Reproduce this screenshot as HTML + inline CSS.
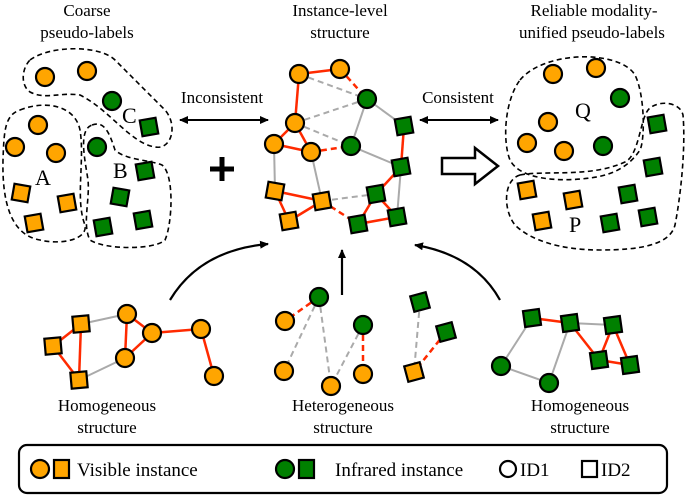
<!DOCTYPE html>
<html><head><meta charset="utf-8"><style>
html,body{margin:0;padding:0;background:#fff;}
svg{display:block;}
text{font-family:"Liberation Serif","Times New Roman",serif;font-size:17px;fill:#000;}
.o{fill:#FFA500;stroke:#000;stroke-width:2.2;}
.g{fill:#008000;stroke:#000;stroke-width:2.2;}
.r{stroke:#FF2A00;stroke-width:2.5;fill:none;}
.rd{stroke:#FF2A00;stroke-width:2.5;fill:none;stroke-dasharray:6,4;}
.gr{stroke:#aaa;stroke-width:2;fill:none;}
.gd{stroke:#aaa;stroke-width:2;fill:none;stroke-dasharray:6,4;}
.bl{fill:none;stroke:#000;stroke-width:1.6;stroke-dasharray:5,3.5;}
.big{font-size:22px;}
.lg{font-size:19px;}
</style></head><body>
<svg width="685" height="498" viewBox="0 0 685 498" xmlns="http://www.w3.org/2000/svg">
<defs>
<marker id="ah" markerWidth="10" markerHeight="10" refX="8" refY="5" orient="auto" markerUnits="userSpaceOnUse"><path d="M0,1 L9,5 L0,9 Z" fill="#000"/></marker>
<marker id="ahs" markerWidth="10" markerHeight="10" refX="1" refY="5" orient="auto" markerUnits="userSpaceOnUse"><path d="M9,1 L0,5 L9,9 Z" fill="#000"/></marker>
</defs>
<g text-anchor="middle">
<text x="87" y="16">Coarse</text><text x="87" y="38">pseudo-labels</text>
<text x="340" y="16">Instance-level</text><text x="340" y="38">structure</text>
<text x="594" y="16">Reliable modality-</text><text x="592" y="38">unified pseudo-labels</text>
<text x="222" y="103">Inconsistent</text><text x="458" y="103">Consistent</text>
<text x="107" y="411">Homogeneous</text><text x="107" y="433">structure</text>
<text x="343" y="411">Heterogeneous</text><text x="343" y="433">structure</text>
<text x="580" y="411">Homogeneous</text><text x="580" y="433">structure</text>
</g>
<path class="bl" d="M30,60 C50,45 100,45 115,60 L165,110 C178,125 172,150 155,147 C130,143 110,110 80,95 C60,92 45,100 30,92 C20,85 22,68 30,60 Z"/>
<path class="bl" d="M20,110 C45,100 75,105 80,130 C85,160 75,200 85,225 C88,240 60,245 40,240 C10,235 2,200 3,160 C4,130 5,115 20,110 Z"/>
<path class="bl" d="M92,125 C105,120 110,135 115,150 C125,160 150,160 162,165 C175,175 172,225 165,240 C155,250 105,250 90,240 C82,225 90,200 88,180 C85,160 78,130 92,125 Z"/>
<circle class="o" cx="45" cy="77" r="9"/><circle class="o" cx="87" cy="71" r="9"/>
<circle class="g" cx="112" cy="101" r="9"/>
<text class="big" x="122" y="123">C</text>
<rect class="g" x="141" y="119" width="16" height="16" transform="rotate(-10 149 127)"/>
<circle class="o" cx="38" cy="125" r="9"/><circle class="o" cx="15" cy="147" r="9"/><circle class="o" cx="56" cy="153" r="9"/>
<text class="big" x="35" y="185">A</text>
<rect class="o" x="13" y="185" width="16" height="16" transform="rotate(10 21 193)"/>
<rect class="o" x="59" y="195" width="16" height="16" transform="rotate(-10 67 203)"/>
<rect class="o" x="26" y="215" width="16" height="16" transform="rotate(-10 34 223)"/>
<circle class="g" cx="97" cy="147" r="9"/>
<text class="big" x="113" y="178">B</text>
<rect class="g" x="137" y="163" width="16" height="16" transform="rotate(-10 145 171)"/>
<rect class="g" x="112" y="189" width="16" height="16" transform="rotate(10 120 197)"/>
<rect class="g" x="135" y="212" width="16" height="16" transform="rotate(-10 143 220)"/>
<rect class="g" x="95" y="219" width="16" height="16" transform="rotate(-10 103 227)"/>
<line x1="180" y1="120" x2="268" y2="120" stroke="#000" stroke-width="2" marker-end="url(#ah)" marker-start="url(#ahs)"/>
<line x1="420" y1="120" x2="498" y2="120" stroke="#000" stroke-width="2" marker-end="url(#ah)" marker-start="url(#ahs)"/>
<path d="M222,157 V181 M210,169 H234" stroke="#000" stroke-width="5"/>
<path d="M442,158 H475 V148 L498,166 L475,184 V174 H442 Z" fill="#fff" stroke="#000" stroke-width="2.5"/>
<g>
<line class="gd" x1="299" y1="74" x2="367" y2="99"/><line class="gd" x1="295" y1="123" x2="367" y2="99"/><line class="gd" x1="295" y1="123" x2="351" y2="146"/><line class="gd" x1="322" y1="201" x2="376" y2="194"/>
<line class="gr" x1="367" y1="99" x2="351" y2="146"/><line class="gr" x1="367" y1="99" x2="404" y2="126"/><line class="gr" x1="351" y1="146" x2="401" y2="167"/><line class="gr" x1="401" y1="167" x2="397" y2="217"/><line class="gr" x1="274" y1="144" x2="275" y2="191"/><line class="gr" x1="311" y1="152" x2="322" y2="201"/>
<line class="r" x1="299" y1="74" x2="340" y2="69"/><line class="r" x1="299" y1="74" x2="295" y2="123"/><line class="r" x1="295" y1="123" x2="274" y2="144"/><line class="r" x1="295" y1="123" x2="311" y2="152"/><line class="r" x1="274" y1="144" x2="311" y2="152"/>
<line class="r" x1="404" y1="126" x2="401" y2="167"/><line class="r" x1="401" y1="167" x2="376" y2="194"/><line class="r" x1="376" y1="194" x2="358" y2="224"/><line class="r" x1="376" y1="194" x2="397" y2="217"/><line class="r" x1="358" y1="224" x2="397" y2="217"/>
<line class="r" x1="275" y1="191" x2="322" y2="201"/><line class="r" x1="275" y1="191" x2="289" y2="221"/><line class="r" x1="289" y1="221" x2="322" y2="201"/>
<line class="rd" x1="340" y1="69" x2="367" y2="99"/><line class="rd" x1="311" y1="152" x2="351" y2="146"/><line class="rd" x1="322" y1="201" x2="358" y2="224"/>
</g>
<circle class="o" cx="299" cy="74" r="9"/><circle class="o" cx="340" cy="69" r="9"/><circle class="o" cx="295" cy="123" r="9"/><circle class="o" cx="274" cy="144" r="9"/><circle class="o" cx="311" cy="152" r="9"/>
<circle class="g" cx="367" cy="99" r="9"/><circle class="g" cx="351" cy="146" r="9"/>
<rect class="g" x="396" y="118" width="16" height="16" transform="rotate(-10 404 126)"/>
<rect class="g" x="393" y="159" width="16" height="16" transform="rotate(-10 401 167)"/>
<rect class="g" x="368" y="186" width="16" height="16" transform="rotate(-10 376 194)"/>
<rect class="g" x="389" y="209" width="16" height="16" transform="rotate(-10 397 217)"/>
<rect class="g" x="350" y="216" width="16" height="16" transform="rotate(-10 358 224)"/>
<rect class="o" x="267" y="183" width="16" height="16" transform="rotate(10 275 191)"/>
<rect class="o" x="314" y="193" width="16" height="16" transform="rotate(-10 322 201)"/>
<rect class="o" x="281" y="213" width="16" height="16" transform="rotate(-10 289 221)"/>
<path class="bl" d="M520,80 C545,50 620,50 635,75 C645,95 645,140 640,150 C630,165 615,175 590,178 C560,182 520,180 510,160 C502,140 505,100 520,80 Z"/>
<path class="bl" d="M520,175 C545,170 590,178 625,162 C640,155 640,115 650,108 C660,100 680,102 683,115 C686,150 680,200 675,225 C670,245 640,250 600,250 C560,250 530,240 515,225 C503,210 503,180 520,175 Z"/>
<circle class="o" cx="553" cy="74" r="9"/><circle class="o" cx="596" cy="68" r="9"/><circle class="g" cx="620" cy="98" r="9"/>
<circle class="o" cx="548" cy="122" r="9"/><circle class="o" cx="527" cy="143" r="9"/><circle class="o" cx="564" cy="151" r="9"/><circle class="g" cx="603" cy="146" r="9"/>
<text class="big" x="575" y="118">Q</text>
<text class="big" x="569" y="232">P</text>
<rect class="o" x="519" y="182" width="16" height="16" transform="rotate(-10 527 190)"/>
<rect class="o" x="565" y="192" width="16" height="16" transform="rotate(-10 573 200)"/>
<rect class="o" x="534" y="213" width="16" height="16" transform="rotate(-10 542 221)"/>
<rect class="g" x="649" y="116" width="16" height="16" transform="rotate(-10 657 124)"/>
<rect class="g" x="645" y="159" width="16" height="16" transform="rotate(-10 653 167)"/>
<rect class="g" x="620" y="186" width="16" height="16" transform="rotate(-10 628 194)"/>
<rect class="g" x="602" y="215" width="16" height="16" transform="rotate(-10 610 223)"/>
<rect class="g" x="640" y="209" width="16" height="16" transform="rotate(-10 648 217)"/>
<path d="M170,300 Q200,250 268,244" fill="none" stroke="#000" stroke-width="2.2" marker-end="url(#ah)"/>
<line x1="342" y1="295" x2="342" y2="250" stroke="#000" stroke-width="2.2" marker-end="url(#ah)"/>
<path d="M500,300 Q475,255 415,245" fill="none" stroke="#000" stroke-width="2.2" marker-end="url(#ah)"/>
<line class="gr" x1="81" y1="324" x2="127" y2="314"/><line class="gr" x1="79" y1="380" x2="125" y2="358"/>
<line class="r" x1="53" y1="346" x2="81" y2="324"/><line class="r" x1="53" y1="346" x2="79" y2="380"/><line class="r" x1="81" y1="324" x2="79" y2="380"/>
<line class="r" x1="127" y1="314" x2="125" y2="358"/><line class="r" x1="127" y1="314" x2="152" y2="333"/><line class="r" x1="125" y1="358" x2="152" y2="333"/><line class="r" x1="152" y1="333" x2="201" y2="329"/><line class="r" x1="201" y1="329" x2="214" y2="376"/>
<rect class="o" x="45" y="338" width="16" height="16" transform="rotate(-5 53 346)"/>
<rect class="o" x="73" y="316" width="16" height="16" transform="rotate(-5 81 324)"/>
<rect class="o" x="71" y="372" width="16" height="16" transform="rotate(-5 79 380)"/>
<circle class="o" cx="127" cy="314" r="9"/><circle class="o" cx="152" cy="333" r="9"/><circle class="o" cx="125" cy="358" r="9"/><circle class="o" cx="201" cy="329" r="9"/><circle class="o" cx="214" cy="376" r="9"/>
<line class="rd" x1="319" y1="297" x2="285" y2="321"/><line class="gd" x1="319" y1="297" x2="284" y2="371"/><line class="gd" x1="319" y1="297" x2="331" y2="386"/><line class="gd" x1="363" y1="325" x2="331" y2="386"/><line class="rd" x1="363" y1="325" x2="363" y2="374"/>
<line class="gd" x1="420" y1="302" x2="414" y2="372"/><line class="rd" x1="446" y1="332" x2="414" y2="372"/>
<circle class="g" cx="319" cy="297" r="9"/><circle class="o" cx="285" cy="321" r="9"/><circle class="o" cx="284" cy="371" r="9"/><circle class="o" cx="331" cy="386" r="9"/><circle class="g" cx="363" cy="325" r="9"/><circle class="o" cx="363" cy="374" r="9"/>
<rect class="g" x="412" y="294" width="16" height="16" transform="rotate(-15 420 302)"/>
<rect class="g" x="438" y="324" width="16" height="16" transform="rotate(-15 446 332)"/>
<rect class="o" x="406" y="364" width="16" height="16" transform="rotate(-15 414 372)"/>
<line class="gr" x1="570" y1="323" x2="613" y2="325"/><line class="gr" x1="532" y1="318" x2="501" y2="366"/><line class="gr" x1="501" y1="366" x2="549" y2="383"/><line class="gr" x1="549" y1="383" x2="570" y2="323"/>
<line class="r" x1="532" y1="318" x2="570" y2="323"/><line class="r" x1="570" y1="323" x2="599" y2="360"/><line class="r" x1="613" y1="325" x2="599" y2="360"/><line class="r" x1="613" y1="325" x2="630" y2="365"/><line class="r" x1="599" y1="360" x2="630" y2="365"/>
<rect class="g" x="524" y="310" width="16" height="16" transform="rotate(-8 532 318)"/>
<rect class="g" x="562" y="315" width="16" height="16" transform="rotate(-8 570 323)"/>
<rect class="g" x="605" y="317" width="16" height="16" transform="rotate(-8 613 325)"/>
<rect class="g" x="591" y="352" width="16" height="16" transform="rotate(-8 599 360)"/>
<rect class="g" x="622" y="357" width="16" height="16" transform="rotate(-8 630 365)"/>
<circle class="g" cx="501" cy="366" r="9"/><circle class="g" cx="549" cy="383" r="9"/>
<rect x="19" y="445" width="648" height="48" rx="8" fill="#fff" stroke="#000" stroke-width="2.2"/>
<circle class="o" cx="40" cy="469" r="9"/><rect class="o" x="54" y="460" width="15" height="18"/>
<text class="lg" x="77" y="476">Visible instance</text>
<circle class="g" cx="285" cy="469" r="9"/><rect class="g" x="299" y="460" width="15" height="18"/>
<text class="lg" x="335" y="476">Infrared instance</text>
<circle cx="508" cy="469" r="8" fill="#fff" stroke="#000" stroke-width="2.2"/><text class="lg" x="520" y="476">ID1</text>
<rect x="582" y="461" width="15" height="16" fill="#fff" stroke="#000" stroke-width="2.2"/><text class="lg" x="601" y="476">ID2</text>
</svg>
</body></html>
